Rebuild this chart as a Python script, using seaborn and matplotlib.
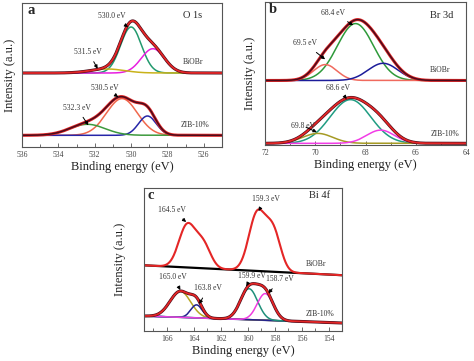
import numpy as np
import matplotlib
matplotlib.use("Agg")
import matplotlib.pyplot as plt
import seaborn as sns
from matplotlib.ticker import MultipleLocator

sns.set_theme(style="white")
plt.rcParams['font.family'] = ['Liberation Serif', 'DejaVu Serif']

# ---- peak parameters: center (eV), height, FWHM ----
# O 1s
o1s_biobr_base = 74
o1s_biobr_center = [530.0, 528.8, 531.3]
o1s_biobr_height = [46, 24.3, 4]
o1s_biobr_fwhm = [1.35, 1.5, 2.2]
o1s_biobr_colors = ['#239a6e', '#e81ee0', '#c9b21a']

o1s_zib_base = 11.7
o1s_zib_center = [530.5, 529.1, 532.4]
o1s_zib_height = [36.7, 19.3, 11]
o1s_zib_fwhm = [2.0, 1.15, 2.3]
o1s_zib_colors = ['#f0684c', '#2626a8', '#3d9a3d']

# Br 3d
br3d_biobr_base = 65
br3d_biobr_center = [68.4, 69.6, 67.3]
br3d_biobr_height = [57.3, 16, 17.3]
br3d_biobr_fwhm = [1.7, 1.1, 1.4]
br3d_biobr_colors = ['#2e9a3a', '#f06a5e', '#1c1c9a']

br3d_zib_base = 1.7
br3d_zib_center = [68.6, 69.9, 67.4]
br3d_zib_height = [44, 10, 13.3]
br3d_zib_fwhm = [1.9, 1.4, 1.3]
br3d_zib_colors = ['#1f9c82', '#a69a24', '#f23ce6']

# Bi 4f (sloped baselines, left/right end values)
bi4f_biobr_base = [65.7, 55.8]
bi4f_biobr_center = [164.5, 163.3, 159.3, 158.1]
bi4f_biobr_height = [42, 23, 57, 39]
bi4f_biobr_fwhm = [1.45, 1.3, 1.45, 1.3]

bi4f_zib_base = [15, 8]
bi4f_zib_center = [165.0, 163.8, 159.9, 158.7]
bi4f_zib_height = [26, 13, 31, 26.7]
bi4f_zib_fwhm = [1.8, 1.0, 1.5, 1.4]
bi4f_zib_colors = ['#b8a622', '#22228e', '#1f8f7a', '#f03ce0']


def gauss(x, c, h, w):
    s = w / 2.3548
    return h * np.exp(-0.5 * ((x - c) / s) ** 2)


def draw_state(ax, x, base, centers, heights, fwhms, colors, env_dark_on_top):
    comps = [gauss(x, c, h, w) for c, h, w in zip(centers, heights, fwhms)]
    for comp, col in zip(comps, colors):
        sns.lineplot(x=x, y=base + comp, ax=ax, color=col, lw=1.1)
    env = base + np.sum(comps, axis=0)
    if env_dark_on_top:
        sns.lineplot(x=x, y=env, ax=ax, color='#e42626', lw=2.2)
        sns.lineplot(x=x, y=env, ax=ax, color='#4a0c1c', lw=1.1)
    else:
        sns.lineplot(x=x, y=env, ax=ax, color='#4a0c1c', lw=2.2)
        sns.lineplot(x=x, y=env, ax=ax, color='#e42626', lw=1.3)


def style_axes(ax, xlim, ylim, label_x):
    ax.set_xlim(*xlim)
    ax.set_ylim(*ylim)
    ax.set_yticks([])
    ax.xaxis.set_major_locator(MultipleLocator(2))
    ax.xaxis.set_minor_locator(MultipleLocator(1))
    ax.tick_params(axis='x', which='both', direction='in', labelsize=5.5,
                   bottom=True, pad=3, colors='#555555', labelcolor='#444444')
    ax.tick_params(axis='x', which='major', length=3, width=0.6)
    ax.tick_params(axis='x', which='minor', length=2, width=0.6)
    for sp in ax.spines.values():
        sp.set_color('#555555')
        sp.set_linewidth(0.8)
    ax.set_xlabel('Binding energy (eV)', fontsize=9, labelpad=1, color='#222222')
    ax.set_ylabel('Intensity (a.u.)', fontsize=9, color='#222222')
    ax.yaxis.set_label_coords(label_x, 0.5)


def note(ax, text, xytext, xy):
    ax.annotate(text, xy=xy, xytext=xytext, fontsize=5.5, ha='center', va='center',
                color='#333333',
                arrowprops=dict(arrowstyle='-|>', color='black', lw=0.7,
                                mutation_scale=5, shrinkA=2, shrinkB=0))


fig = plt.figure(figsize=(4.74, 3.61), dpi=100)
ax_a = fig.add_axes([0.0464, 0.5928, 0.4219, 0.3989])
ax_b = fig.add_axes([0.5591, 0.5983, 0.4241, 0.3961])
ax_c = fig.add_axes([0.3038, 0.0831, 0.4177, 0.3961])

# ---- a: O 1s ----
xa = np.linspace(536, 525, 500)
draw_state(ax_a, xa, o1s_biobr_base, o1s_biobr_center, o1s_biobr_height,
           o1s_biobr_fwhm, o1s_biobr_colors, False)
draw_state(ax_a, xa, o1s_zib_base, o1s_zib_center, o1s_zib_height,
           o1s_zib_fwhm, o1s_zib_colors, True)
style_axes(ax_a, (536, 525), (0, 144), -0.028)
note(ax_a, '530.0 eV', (531.07, 130.7), (530.16, 120))
note(ax_a, '531.5 eV', (532.35, 95), (531.84, 78.3))
note(ax_a, '530.5 eV', (531.44, 59.3), (530.71, 50))
note(ax_a, '532.3 eV', (532.99, 39.3), (532.35, 21.7))
ax_a.text(526.6, 131.7, 'O 1s', fontsize=7.5, ha='center', va='center')
ax_a.text(535.7, 136, 'a', fontsize=10.5, fontweight='bold', ha='left', va='center')
ax_a.text(526.6, 85, 'BiOBr', fontsize=5.5, ha='center', va='center', color='#333333')
ax_a.text(526.5, 21.7, 'ZIB-10%', fontsize=5.5, ha='center', va='center', color='#333333')

# ---- b: Br 3d ----
xb = np.linspace(72, 64, 500)
draw_state(ax_b, xb, br3d_biobr_base, br3d_biobr_center, br3d_biobr_height,
           br3d_biobr_fwhm, br3d_biobr_colors, True)
draw_state(ax_b, xb, br3d_zib_base, br3d_zib_center, br3d_zib_height,
           br3d_zib_fwhm, br3d_zib_colors, False)
style_axes(ax_b, (72, 64), (0, 144), -0.045)
note(ax_b, '68.4 eV', (69.28, 133), (68.49, 120.7))
note(ax_b, '69.5 eV', (70.41, 102.3), (69.61, 86.3))
note(ax_b, '68.6 eV', (69.08, 57.3), (68.75, 46.3))
note(ax_b, '69.8 eV', (70.47, 19), (69.94, 13))
ax_b.text(64.97, 130.7, 'Br 3d', fontsize=7.5, ha='center', va='center')
ax_b.text(71.85, 136, 'b', fontsize=10.5, fontweight='bold', ha='left', va='center')
ax_b.text(65.04, 75.7, 'BiOBr', fontsize=5.5, ha='center', va='center', color='#333333')
ax_b.text(64.84, 10.7, 'ZIB-10%', fontsize=5.5, ha='center', va='center', color='#333333')

# ---- c: Bi 4f ----
xc = np.linspace(167.7, 153, 600)
xc_ends = [167.7, 153]
base_top = np.interp(xc, xc_ends[::-1], bi4f_biobr_base[::-1])
base_bot = np.interp(xc, xc_ends[::-1], bi4f_zib_base[::-1])
sns.lineplot(x=xc, y=base_top, ax=ax_c, color='black', lw=1.6)
env_top = base_top + np.sum([gauss(xc, c, h, w) for c, h, w in
                             zip(bi4f_biobr_center, bi4f_biobr_height, bi4f_biobr_fwhm)], axis=0)
sns.lineplot(x=xc, y=env_top, ax=ax_c, color='#e42626', lw=1.5)
sns.lineplot(x=xc, y=base_bot, ax=ax_c, color='#22228e', lw=1.2)
draw_state(ax_c, xc, base_bot, bi4f_zib_center, bi4f_zib_height,
           bi4f_zib_fwhm, bi4f_zib_colors, False)
style_axes(ax_c, (167.7, 153), (0, 143), -0.09)
note(ax_c, '164.5 eV', (165.6, 121), (164.57, 109))
note(ax_c, '159.3 eV', (158.65, 132), (159.2, 120))
note(ax_c, '165.0 eV', (165.55, 54.3), (165.0, 41))
note(ax_c, '163.8 eV', (162.94, 42.7), (163.6, 27))
note(ax_c, '159.9 eV', (159.7, 55), (160.1, 45))
note(ax_c, '158.7 eV', (157.6, 51.7), (158.46, 37.7))
ax_c.text(154.7, 136, 'Bi 4f', fontsize=7.5, ha='center', va='center')
ax_c.text(167.45, 136, 'c', fontsize=10.5, fontweight='bold', ha='left', va='center')
ax_c.text(154.9, 67.4, 'BiOBr', fontsize=5.5, ha='center', va='center', color='#333333')
ax_c.text(154.6, 17, 'ZIB-10%', fontsize=5.5, ha='center', va='center', color='#333333')

fig.savefig('out.png', dpi=100)
